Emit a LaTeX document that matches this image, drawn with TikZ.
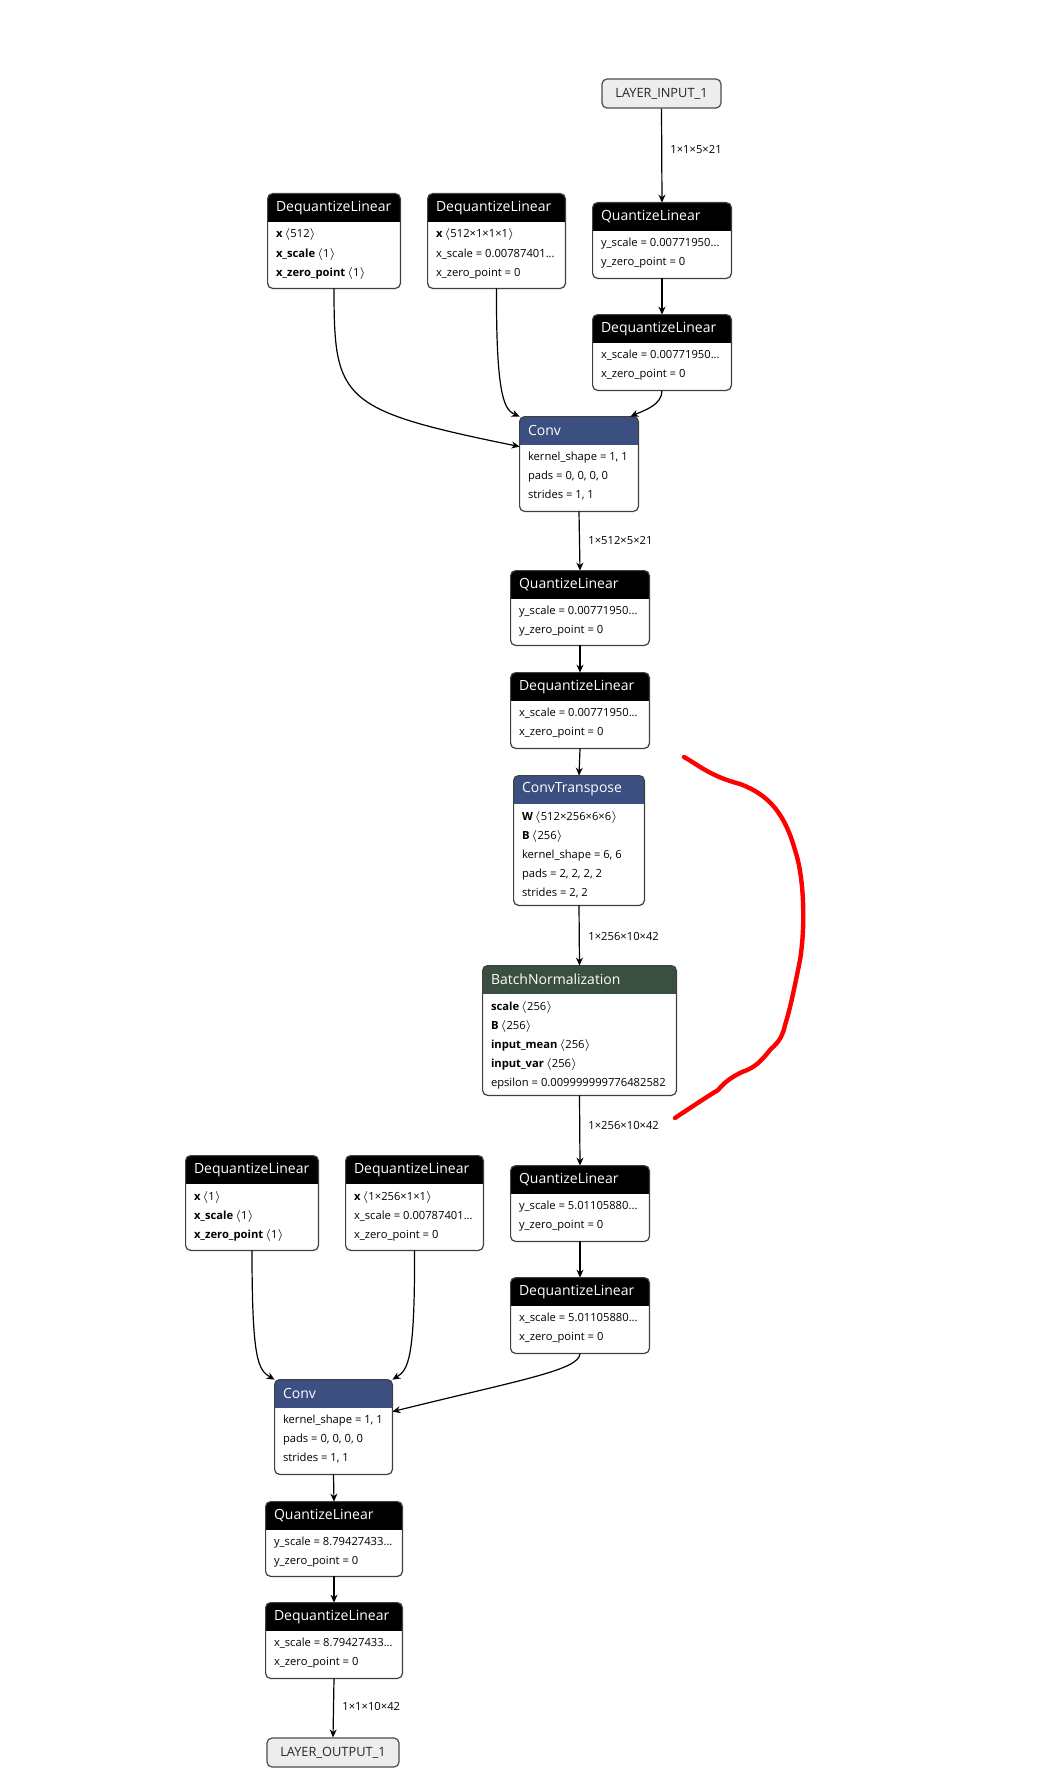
\documentclass[tikz,border=0pt]{standalone}
\usepackage{fontspec}
\setmainfont{Open Sans}
\usetikzlibrary{calc,arrows.meta}
\definecolor{convblue}{HTML}{3B5080}
\definecolor{bngreen}{HTML}{3A4F40}
\newcommand{\lan}{\,$\langle$}
\newcommand{\ran}{$\rangle$}
\tikzset{
  x=0.5pt,y=-0.5pt,
  conn/.style={draw=black,line width=0.6pt,-{Stealth[length=4pt,width=3.5pt]}},
  elabel/.style={font=\fontsize{5.6}{7}\selectfont,anchor=west,inner sep=0},
  iobox/.style={draw=black!70,fill=black!7,rounded corners=2.5pt,line width=0.6pt,font=\fontsize{6.4}{8}\selectfont,inner sep=0,text=black!85}
}
% \opnode{name}{x1}{y1}{x2}{y2}{color}{title}{rows}
\newcommand{\opnode}[8]{%
  \node[minimum width={(#4-#2)*0.5pt},minimum height={(#5-#3)*0.5pt},inner sep=0] (#1) at ({(#2+#4)/2},{(#3+#5)/2}) {};
  \begin{scope}
    \clip[rounded corners=2.5pt] (#1.north west) rectangle (#1.south east);
    \fill[#6] (#1.north west) rectangle ($(#1.north east)+(0,28)$);
  \end{scope}
  \draw[black!75,line width=0.6pt,rounded corners=2.5pt] (#1.north west) rectangle (#1.south east);
  \node[anchor=west,inner sep=0,text=white,font=\fontsize{7}{8}\selectfont] at ($(#1.north west)+(8,14)$) {#7};
  \node[anchor=north west,inner sep=0,align=left,font=\fontsize{5.6}{9.6}\selectfont] at ($(#1.north west)+(8,35)$) {#8};
}
\begin{document}
\begin{tikzpicture}
\useasboundingbox[fill=white] (0,0) rectangle (1040,1771);

\node[iobox,minimum width=59.5pt,minimum height=14.5pt] (in) at (661.5,93.5) {LAYER\_INPUT\_1};
\opnode{q1}{593}{203}{731}{278}{black}{QuantizeLinear}{y\_scale = 0.00771950...\\y\_zero\_point = 0}
\opnode{d1}{593}{315}{731}{390}{black}{DequantizeLinear}{x\_scale = 0.00771950...\\x\_zero\_point = 0}
\opnode{da}{268}{194}{400}{288}{black}{DequantizeLinear}{\textbf{x}\lan 512\ran\\\textbf{x\_scale}\lan 1\ran\\\textbf{x\_zero\_point}\lan 1\ran}
\opnode{db}{428}{194}{565}{288}{black}{DequantizeLinear}{\textbf{x}\lan 512×1×1×1\ran\\x\_scale = 0.00787401...\\x\_zero\_point = 0}
\opnode{c1}{520}{417}{638}{511}{convblue}{Conv}{kernel\_shape = 1, 1\\pads = 0, 0, 0, 0\\strides = 1, 1}
\opnode{q2}{511}{571}{649}{645}{black}{QuantizeLinear}{y\_scale = 0.00771950...\\y\_zero\_point = 0}
\opnode{d2}{511}{673}{649}{748}{black}{DequantizeLinear}{x\_scale = 0.00771950...\\x\_zero\_point = 0}
\opnode{ct}{514}{776}{644}{905}{convblue}{ConvTranspose}{\textbf{W}\lan 512×256×6×6\ran\\\textbf{B}\lan 256\ran\\kernel\_shape = 6, 6\\pads = 2, 2, 2, 2\\strides = 2, 2}
\opnode{bn}{483}{966}{676}{1095}{bngreen}{BatchNormalization}{\textbf{scale}\lan 256\ran\\\textbf{B}\lan 256\ran\\\textbf{input\_mean}\lan 256\ran\\\textbf{input\_var}\lan 256\ran\\epsilon = 0.009999999776482582}
\opnode{q3}{511}{1166}{649}{1241}{black}{QuantizeLinear}{y\_scale = 5.01105880...\\y\_zero\_point = 0}
\opnode{d3}{511}{1278}{649}{1353}{black}{DequantizeLinear}{x\_scale = 5.01105880...\\x\_zero\_point = 0}
\opnode{dc}{186}{1156}{318}{1250}{black}{DequantizeLinear}{\textbf{x}\lan 1\ran\\\textbf{x\_scale}\lan 1\ran\\\textbf{x\_zero\_point}\lan 1\ran}
\opnode{dd}{346}{1156}{483}{1250}{black}{DequantizeLinear}{\textbf{x}\lan 1×256×1×1\ran\\x\_scale = 0.00787401...\\x\_zero\_point = 0}
\opnode{c2}{275}{1380}{392}{1474}{convblue}{Conv}{kernel\_shape = 1, 1\\pads = 0, 0, 0, 0\\strides = 1, 1}
\opnode{q4}{266}{1502}{402}{1576}{black}{QuantizeLinear}{y\_scale = 8.79427433...\\y\_zero\_point = 0}
\opnode{d4}{266}{1603}{402}{1678}{black}{DequantizeLinear}{x\_scale = 8.79427433...\\x\_zero\_point = 0}
\node[iobox,minimum width=66pt,minimum height=14.5pt] (out) at (333,1752.5) {LAYER\_OUTPUT\_1};

% connectors
\draw[conn] (in.south) -- (q1.north);
\node[elabel] at (670,150) {1×1×5×21};
\draw[conn] (q1.south) -- (d1.north);
\draw[conn] (d1.south) .. controls (662,405) and (645,410) .. ($(c1.north east)+(-8,0)$);
\draw[conn] (da.south) .. controls (334,400) and (340,410) .. ($(c1.north west)+(0,30)$);
\draw[conn] (db.south) .. controls (496,400) and (505,410) .. (c1.north west);
\draw[conn] (c1.south) -- (q2.north);
\node[elabel] at (588,540) {1×512×5×21};
\draw[conn] (q2.south) -- (d2.north);
\draw[conn] (d2.south) -- (ct.north);
\draw[conn] (ct.south) -- (bn.north);
\node[elabel] at (588,936) {1×256×10×42};
\draw[conn] (bn.south) -- (q3.north);
\node[elabel] at (588,1125) {1×256×10×42};
\draw[conn] (q3.south) -- (d3.north);
\draw[conn] (d3.south) .. controls (580,1370) and (520,1380) .. ($(c2.north east)+(0,32)$);
\draw[conn] (dc.south) .. controls (252,1360) and (258,1370) .. (c2.north west);
\draw[conn] (dd.south) .. controls (415,1360) and (408,1370) .. (c2.north east);
\draw[conn] (c2.south) -- (q4.north);
\draw[conn] (q4.south) -- (d4.north);
\draw[conn] (d4.south) -- (out.north);
\node[elabel] at (342,1706) {1×1×10×42};

% red hand-drawn curve
\draw[red,line width=2.2pt,line cap=round,line join=round]
 (684,757) .. controls (700,766) and (710,776) .. (740,784)
 .. controls (770,795) and (785,815) .. (795,850)
 .. controls (805,880) and (805,930) .. (800,960)
 .. controls (795,985) and (790,1010) .. (785,1025)
 .. controls (782,1040) and (775,1045) .. (770,1050)
 .. controls (762,1060) and (755,1068) .. (742,1072)
 .. controls (730,1078) and (725,1082) .. (718,1090)
 .. controls (705,1098) and (690,1108) .. (675,1118);
\end{tikzpicture}
\end{document}
